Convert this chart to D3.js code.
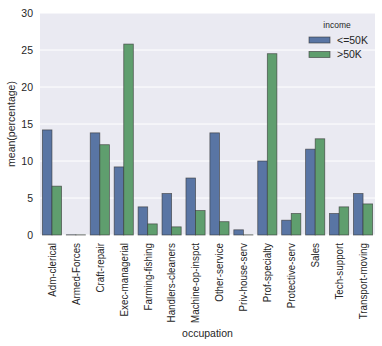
<!DOCTYPE html>
<meta charset="utf-8">
<script src="https://cdn.jsdelivr.net/npm/d3@7"></script>
<style>
body { margin: 0; background: #fff; }
text { font-family: "Liberation Sans", Arial, sans-serif; fill: #262626; }
</style>
<body>
<div id="chart"></div>
<script>
// data
var occupations = ["Adm-clerical", "Armed-Forces", "Craft-repair", "Exec-managerial",
  "Farming-fishing", "Handlers-cleaners", "Machine-op-inspct", "Other-service",
  "Priv-house-serv", "Prof-specialty", "Protective-serv", "Sales",
  "Tech-support", "Transport-moving"];
var incomes = ["<=50K", ">50K"];
var below50 = [14.2, 0.03, 13.8, 9.2, 3.8, 5.6, 7.7, 13.8, 0.7, 10.0, 2.0, 11.6, 2.9, 5.6];
var above50 = [6.6, 0.02, 12.2, 25.8, 1.5, 1.1, 3.3, 1.8, 0.02, 24.5, 2.9, 13.0, 3.8, 4.2];
var yTicks = [0, 5, 10, 15, 20, 25, 30];
var colors = ["#5975A4", "#5F9E6E"];

var W = 382, H = 346;
var margin = {top: 13, right: 7, bottom: 111, left: 40};
var width = W - margin.left - margin.right;
var height = H - margin.top - margin.bottom;

var rows = occupations.map(function(o, i) {
  return {occ: o, vals: [below50[i], above50[i]]};
});

var svg = d3.select("#chart").append("svg")
  .attr("width", W).attr("height", H);
var g = svg.append("g").attr("transform", "translate(" + margin.left + "," + margin.top + ")");

var x = d3.scaleBand().domain(occupations).range([0, width]).paddingInner(0.2).paddingOuter(0.1);
var x1 = d3.scaleBand().domain(incomes).range([0, x.bandwidth()]);
var y = d3.scaleLinear().domain([0, 30]).range([height, 0]);

g.append("rect").attr("width", width).attr("height", height).attr("fill", "#EAEAF2");

// grid
g.selectAll(".grid").data(yTicks).enter().append("line")
  .attr("x1", 0).attr("x2", width)
  .attr("y1", function(d) { return y(d); }).attr("y2", function(d) { return y(d); })
  .attr("stroke", "#fff").attr("stroke-width", 1);

// bars
var groups = g.selectAll(".occ").data(rows).enter().append("g")
  .attr("transform", function(d) { return "translate(" + x(d.occ) + ",0)"; });
groups.selectAll("rect").data(function(d) { return d.vals; }).enter().append("rect")
  .attr("x", function(d, i) { return x1(incomes[i]); })
  .attr("y", function(d) { return y(d); })
  .attr("width", x1.bandwidth())
  .attr("height", function(d) { return height - y(d); })
  .attr("fill", function(d, i) { return colors[i]; })
  .attr("stroke", "#333").attr("stroke-opacity", 0.7).attr("stroke-width", 0.8);

// y axis
var yAxis = g.append("g").call(d3.axisLeft(y).tickValues(yTicks).tickSize(0).tickPadding(7));
yAxis.select(".domain").remove();
yAxis.selectAll("text").attr("font-size", 10.5).style("fill", "#262626")
  .attr("font-family", "Liberation Sans, Arial, sans-serif");

// x axis
var xAxis = g.append("g").attr("transform", "translate(0," + height + ")")
  .call(d3.axisBottom(x).tickSize(0));
xAxis.select(".domain").remove();
xAxis.selectAll("text")
  .attr("font-size", 11).style("fill", "#262626")
  .attr("font-family", "Liberation Sans, Arial, sans-serif")
  .attr("transform", "rotate(-90) scale(0.89,1)")
  .attr("text-anchor", "end")
  .attr("x", -9).attr("y", 0).attr("dy", "0.35em");

// axis titles
svg.append("text").attr("x", margin.left + width / 2).attr("y", 337)
  .attr("text-anchor", "middle").attr("font-size", 10.5).text("occupation");
svg.append("text").attr("transform", "translate(15," + (margin.top + height / 2) + ") rotate(-90)")
  .attr("text-anchor", "middle").attr("font-size", 10.5).text("mean(percentage)");

// legend
var lg = svg.append("g").attr("transform", "translate(309,20)");
lg.append("text").attr("x", 28).attr("y", 8).attr("text-anchor", "middle")
  .attr("font-size", 8.5).text("income");
lg.selectAll(".sw").data(incomes).enter().append("rect")
  .attr("x", 0).attr("y", function(d, i) { return 17 + i * 14.5; })
  .attr("width", 21).attr("height", 6)
  .attr("fill", function(d, i) { return colors[i]; })
  .attr("stroke", "#333").attr("stroke-opacity", 0.7).attr("stroke-width", 0.8);
lg.selectAll(".lt").data(incomes).enter().append("text")
  .attr("x", 28).attr("y", function(d, i) { return 20 + i * 14.5; })
  .attr("dy", "0.35em").attr("font-size", 10.5).text(function(d) { return d; });
</script>
</body>
